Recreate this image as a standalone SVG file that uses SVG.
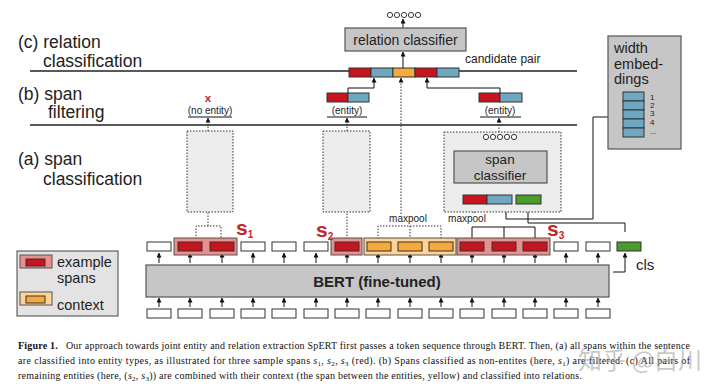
<svg xmlns="http://www.w3.org/2000/svg" width="706" height="388" viewBox="0 0 706 388">
<defs>
<marker id="ah" viewBox="0 0 6 6" refX="5.5" refY="3" markerWidth="5" markerHeight="5" orient="auto" markerUnits="userSpaceOnUse"><path d="M0,0 L6,3 L0,6 z" fill="#111"/></marker>
<style>
.lbl{font-family:"Liberation Sans",Arial,sans-serif;font-size:17.5px;fill:#222}
.sans{font-family:"Liberation Sans",Arial,sans-serif;fill:#222}
.tok{fill:#fff;stroke:#333;stroke-width:1}
.red{fill:#c8141e;stroke:#333;stroke-width:1}
.blue{fill:#6fa7c1;stroke:#333;stroke-width:1}
.yel{fill:#f6aa3e;stroke:#333;stroke-width:1}
.grn{fill:#4c9a2a;stroke:#333;stroke-width:1}
.grp{fill:#ea8f8f;stroke:#555;stroke-width:1}
.ygrp{fill:#fdd398;stroke:#555;stroke-width:1}
.gbox{fill:#c6c6c6;stroke:#555;stroke-width:1.2}
.dbox{fill:#ececec;stroke:#333;stroke-width:1;stroke-dasharray:1.5 1.5}
.ln{fill:none;stroke:#111;stroke-width:1}
.dl{fill:none;stroke:#333;stroke-width:1;stroke-dasharray:1.5 1.5}
.arr{fill:none;stroke:#111;stroke-width:1;marker-end:url(#ah)}
.darr{fill:none;stroke:#333;stroke-width:1;stroke-dasharray:1.5 1.5;marker-end:url(#ah)}
.sep{fill:none;stroke:#222;stroke-width:1.3}
.circ{fill:#fff;stroke:#222;stroke-width:0.9}
.slab{font-family:"Liberation Sans",Arial,sans-serif;font-weight:bold;fill:#c0282d}
.cap{font-family:"Liberation Serif","Times New Roman",serif;font-size:10px;fill:#111}
</style>
</defs>
<rect width="706" height="388" fill="#fff"/>

<!-- section labels and separators -->
<g id="section-labels">
<text class="lbl" x="18" y="48">(c) relation</text>
<text class="lbl" x="43" y="67">classification</text>
<text class="lbl" x="18" y="100">(b) span</text>
<text class="lbl" x="48" y="118">filtering</text>
<text class="lbl" x="18" y="165">(a) span</text>
<text class="lbl" x="43" y="185">classification</text>
<line class="sep" x1="30" y1="71" x2="577" y2="71"/>
<line class="sep" x1="30" y1="125" x2="577" y2="125"/>
</g>

<!-- connectors -->
<g id="connectors">
<!-- BERT to top tokens -->
<line class="arr" x1="159" y1="263" x2="159" y2="253"/>
<line class="arr" x1="190" y1="263" x2="190" y2="253"/>
<line class="arr" x1="222" y1="263" x2="222" y2="253"/>
<line class="arr" x1="253" y1="263" x2="253" y2="253"/>
<line class="arr" x1="284" y1="263" x2="284" y2="253"/>
<line class="arr" x1="316" y1="263" x2="316" y2="253"/>
<line class="arr" x1="347" y1="263" x2="347" y2="253"/>
<line class="arr" x1="378" y1="263" x2="378" y2="253"/>
<line class="arr" x1="410" y1="263" x2="410" y2="253"/>
<line class="arr" x1="441" y1="263" x2="441" y2="253"/>
<line class="arr" x1="472" y1="263" x2="472" y2="253"/>
<line class="arr" x1="504" y1="263" x2="504" y2="253"/>
<line class="arr" x1="535" y1="263" x2="535" y2="253"/>
<line class="arr" x1="566" y1="263" x2="566" y2="253"/>
<line class="arr" x1="598" y1="263" x2="598" y2="253"/>
<!-- bottom tokens to BERT -->
<line class="arr" x1="159" y1="307" x2="159" y2="298"/>
<line class="arr" x1="190" y1="307" x2="190" y2="298"/>
<line class="arr" x1="222" y1="307" x2="222" y2="298"/>
<line class="arr" x1="253" y1="307" x2="253" y2="298"/>
<line class="arr" x1="284" y1="307" x2="284" y2="298"/>
<line class="arr" x1="316" y1="307" x2="316" y2="298"/>
<line class="arr" x1="347" y1="307" x2="347" y2="298"/>
<line class="arr" x1="378" y1="307" x2="378" y2="298"/>
<line class="arr" x1="410" y1="307" x2="410" y2="298"/>
<line class="arr" x1="441" y1="307" x2="441" y2="298"/>
<line class="arr" x1="472" y1="307" x2="472" y2="298"/>
<line class="arr" x1="504" y1="307" x2="504" y2="298"/>
<line class="arr" x1="535" y1="307" x2="535" y2="298"/>
<line class="arr" x1="566" y1="307" x2="566" y2="298"/>
<line class="arr" x1="598" y1="307" x2="598" y2="298"/>
<!-- cls -->
<polyline class="arr" points="613,272 625,272 625,253"/>
<!-- s1 dotted -->
<polyline class="dl" points="196,242 196,226 221,226 221,242"/>
<line class="dl" x1="208" y1="226" x2="208" y2="212"/>
<line class="darr" x1="208" y1="131" x2="208" y2="118"/>
<!-- s2 dotted -->
<line class="dl" x1="347" y1="242" x2="347" y2="212"/>
<line class="darr" x1="347" y1="131" x2="347" y2="118"/>
<!-- context maxpool dotted -->
<polyline class="dl" points="378,242 378,226 441,226 441,242"/>
<line class="dl" x1="410" y1="226" x2="410" y2="242"/>
<line class="darr" x1="401" y1="214" x2="401" y2="78"/>
<!-- s3 maxpool -->
<polyline class="ln" points="472,242 472,227 535,227 535,242"/>
<line class="ln" x1="504" y1="227" x2="504" y2="242"/>
<line class="arr" x1="474" y1="213" x2="474" y2="205"/>
<!-- width embedding to s3 -->
<polyline class="arr" points="623,117 593,117 593,219 506,219 506,205"/>
<!-- cls token to s3 -->
<polyline class="arr" points="625,232 625,223 528,223 528,205"/>
<!-- span classifier arrows -->
<line class="arr" x1="498" y1="195" x2="498" y2="184"/>
<line class="arr" x1="499" y1="151" x2="499" y2="142"/>
<line class="darr" x1="499" y1="132" x2="499" y2="118"/>
<!-- entity pairs to candidate -->
<polyline class="arr" points="348,93 348,88 374,88 374,78"/>
<polyline class="arr" points="500,93 500,88 427,88 427,78"/>
<!-- candidate to relation classifier -->
<line class="arr" x1="403" y1="68" x2="403" y2="52"/>
<line class="arr" x1="403" y1="28" x2="403" y2="19"/>
</g>

<!-- BERT -->
<g id="bert">
<rect class="gbox" x="146" y="265" width="463" height="32"/>
<text class="sans" x="377" y="287" font-size="15" font-weight="bold" text-anchor="middle" fill="#111">BERT (fine-tuned)</text>
</g>

<!-- input tokens -->
<g id="input-tokens">
<rect class="tok" x="147" y="309" width="24" height="9"/>
<rect class="tok" x="178" y="309" width="24" height="9"/>
<rect class="tok" x="210" y="309" width="24" height="9"/>
<rect class="tok" x="241" y="309" width="24" height="9"/>
<rect class="tok" x="272" y="309" width="24" height="9"/>
<rect class="tok" x="304" y="309" width="24" height="9"/>
<rect class="tok" x="335" y="309" width="24" height="9"/>
<rect class="tok" x="366" y="309" width="24" height="9"/>
<rect class="tok" x="398" y="309" width="24" height="9"/>
<rect class="tok" x="429" y="309" width="24" height="9"/>
<rect class="tok" x="460" y="309" width="24" height="9"/>
<rect class="tok" x="492" y="309" width="24" height="9"/>
<rect class="tok" x="523" y="309" width="24" height="9"/>
<rect class="tok" x="554" y="309" width="24" height="9"/>
<rect class="tok" x="586" y="309" width="24" height="9"/>
</g>

<!-- output tokens -->
<g id="output-tokens">
<rect class="grp" x="174" y="238" width="63" height="17"/>
<rect class="grp" x="331" y="238" width="31" height="17"/>
<rect class="ygrp" x="364" y="238" width="92" height="17"/>
<rect class="grp" x="457" y="238" width="93" height="17"/>
<rect class="tok" x="147" y="242" width="24" height="9"/>
<rect class="red" x="178" y="242" width="24" height="9"/>
<rect class="red" x="210" y="242" width="24" height="9"/>
<rect class="tok" x="241" y="242" width="24" height="9"/>
<rect class="tok" x="272" y="242" width="24" height="9"/>
<rect class="tok" x="304" y="242" width="24" height="9"/>
<rect class="red" x="335" y="242" width="24" height="9"/>
<rect class="yel" x="367" y="242" width="24" height="9"/>
<rect class="yel" x="398" y="242" width="24" height="9"/>
<rect class="yel" x="429" y="242" width="24" height="9"/>
<rect class="red" x="460" y="242" width="24" height="9"/>
<rect class="red" x="492" y="242" width="24" height="9"/>
<rect class="red" x="523" y="242" width="24" height="9"/>
<rect class="tok" x="554" y="242" width="24" height="9"/>
<rect class="tok" x="586" y="242" width="24" height="9"/>
<rect class="grn" x="617" y="242" width="24" height="9"/>
<text class="sans" x="636" y="270" font-size="15">cls</text>
</g>

<!-- span labels -->
<g id="span-labels">
<text class="slab" x="236" y="235" font-size="21">s<tspan font-size="10" dy="3">1</tspan></text>
<text class="slab" x="316" y="237" font-size="21">s<tspan font-size="10" dy="3">2</tspan></text>
<text class="slab" x="547" y="236" font-size="21">s<tspan font-size="10" dy="3">3</tspan></text>
<text class="sans" x="408" y="222" font-size="10" text-anchor="middle" fill="#333">maxpool</text>
<text class="sans" x="467" y="222" font-size="10" text-anchor="middle" fill="#333">maxpool</text>
</g>

<!-- span s1 -->
<g id="span-s1">
<rect class="dbox" x="187" y="131" width="46" height="81"/>
<text class="slab" x="208" y="101.5" font-size="11.5" text-anchor="middle">x</text>
<text class="sans" x="210" y="114" font-size="10" text-anchor="middle" fill="#333">(no entity)</text>
<line class="ln" x1="188" y1="117" x2="232" y2="117" stroke="#555"/>
</g>

<!-- span s2 -->
<g id="span-s2">
<rect class="dbox" x="323" y="131" width="47" height="81"/>
<rect class="red" x="327" y="93" width="21" height="9"/>
<rect class="blue" x="348" y="93" width="21" height="9"/>
<text class="sans" x="347" y="114" font-size="10" text-anchor="middle" fill="#333">(entity)</text>
<line class="ln" x1="327" y1="117" x2="367" y2="117" stroke="#555"/>
</g>

<!-- span s3 with classifier -->
<g id="span-s3">
<rect class="dbox" x="444" y="132" width="117" height="80"/>
<circle class="circ" cx="486" cy="137" r="2.6"/>
<circle class="circ" cx="493" cy="137" r="2.6"/>
<circle class="circ" cx="500" cy="137" r="2.6"/>
<circle class="circ" cx="507" cy="137" r="2.6"/>
<circle class="circ" cx="514" cy="137" r="2.6"/>
<rect class="gbox" x="454" y="151" width="93" height="32"/>
<text class="sans" x="500" y="164" font-size="13.5" text-anchor="middle">span</text>
<text class="sans" x="500" y="179.5" font-size="13.5" text-anchor="middle">classifier</text>
<rect class="red" x="463" y="195" width="24" height="9"/>
<rect class="blue" x="487" y="195" width="25" height="9"/>
<rect class="grn" x="516" y="195" width="25" height="9"/>
<rect class="red" x="479" y="93" width="21" height="9"/>
<rect class="blue" x="500" y="93" width="22" height="9"/>
<text class="sans" x="500" y="114" font-size="10" text-anchor="middle" fill="#333">(entity)</text>
<line class="ln" x1="480" y1="117" x2="521" y2="117" stroke="#555"/>
</g>

<!-- candidate pair -->
<g id="candidate-pair">
<rect class="red" x="349" y="68" width="22" height="9"/>
<rect class="blue" x="371" y="68" width="22" height="9"/>
<rect class="yel" x="393" y="68" width="22" height="9"/>
<rect class="red" x="415" y="68" width="22" height="9"/>
<rect class="blue" x="437" y="68" width="22" height="9"/>
<text class="sans" x="465" y="63" font-size="12">candidate pair</text>
</g>

<!-- relation classifier -->
<g id="relation-classifier">
<rect class="gbox" x="345" y="28" width="121" height="23"/>
<text class="sans" x="405.5" y="44.5" font-size="14" text-anchor="middle">relation classifier</text>
<circle class="circ" cx="390" cy="15" r="2.6"/>
<circle class="circ" cx="397" cy="15" r="2.6"/>
<circle class="circ" cx="404" cy="15" r="2.6"/>
<circle class="circ" cx="411" cy="15" r="2.6"/>
<circle class="circ" cx="418" cy="15" r="2.6"/>
</g>

<!-- width embeddings -->
<g id="width-embeddings">
<rect class="gbox" x="608" y="36" width="73" height="113"/>
<text class="sans" x="614" y="53" font-size="14.5">width</text>
<text class="sans" x="614" y="68.5" font-size="14.5">embed-</text>
<text class="sans" x="614" y="84" font-size="14.5">dings</text>
<rect class="blue" x="623" y="92" width="21" height="9"/>
<rect class="blue" x="623" y="101" width="21" height="9"/>
<rect class="blue" x="623" y="110" width="21" height="9"/>
<rect class="blue" x="623" y="119" width="21" height="9"/>
<rect class="blue" x="623" y="128" width="21" height="9"/>
<text class="sans" x="650" y="100" font-size="8" fill="#333">1</text>
<text class="sans" x="650" y="108" font-size="8" fill="#333">2</text>
<text class="sans" x="650" y="116" font-size="8" fill="#333">3</text>
<text class="sans" x="650" y="125" font-size="8" fill="#333">4</text>
<text class="sans" x="650" y="134" font-size="8" fill="#333">...</text>
</g>

<!-- legend -->
<g id="legend">
<rect x="17" y="251" width="101" height="65" fill="#e3e3e3" stroke="#444" stroke-width="1"/>
<rect class="grp" x="20" y="255" width="32" height="13"/>
<rect class="red" x="26" y="259" width="19" height="7"/>
<text class="sans" x="57" y="267" font-size="14.5">example</text>
<text class="sans" x="57" y="283" font-size="14.5">spans</text>
<rect class="ygrp" x="20" y="292" width="32" height="13"/>
<rect class="yel" x="26" y="296" width="19" height="7"/>
<text class="sans" x="57" y="310" font-size="14.5">context</text>
</g>

<!-- caption -->
<g id="caption">
<text class="cap" x="18" y="349" textLength="672" lengthAdjust="spacing"><tspan font-weight="bold">Figure 1.</tspan><tspan dx="8">Our approach towards joint entity and relation extraction SpERT first passes a token sequence through BERT. Then, (a) all spans within the sentence</tspan></text>
<text class="cap" x="18" y="364" textLength="672" lengthAdjust="spacing">are classified into entity types, as illustrated for three sample spans <tspan font-style="italic">s</tspan><tspan font-size="7" dy="2">1</tspan><tspan dy="-2">, </tspan><tspan font-style="italic">s</tspan><tspan font-size="7" dy="2">2</tspan><tspan dy="-2">, </tspan><tspan font-style="italic">s</tspan><tspan font-size="7" dy="2">3</tspan><tspan dy="-2"> (red). (b) Spans classified as non-entites (here, </tspan><tspan font-style="italic">s</tspan><tspan font-size="7" dy="2">1</tspan><tspan dy="-2">) are filtered. (c) All pairs of</tspan></text>
<text class="cap" x="18" y="379" textLength="564" lengthAdjust="spacing">remaining entities (here, (<tspan font-style="italic">s</tspan><tspan font-size="7" dy="2">2</tspan><tspan dy="-2">, </tspan><tspan font-style="italic">s</tspan><tspan font-size="7" dy="2">3</tspan><tspan dy="-2">)) are combined with their context (the span between the entities, yellow) and classified into relations.</tspan></text>
<text x="578" y="369" font-family="'Noto Sans CJK SC',sans-serif" font-size="24" fill="#9a9a9a" fill-opacity="0.55">知乎 @白川</text>
</g>
</svg>
